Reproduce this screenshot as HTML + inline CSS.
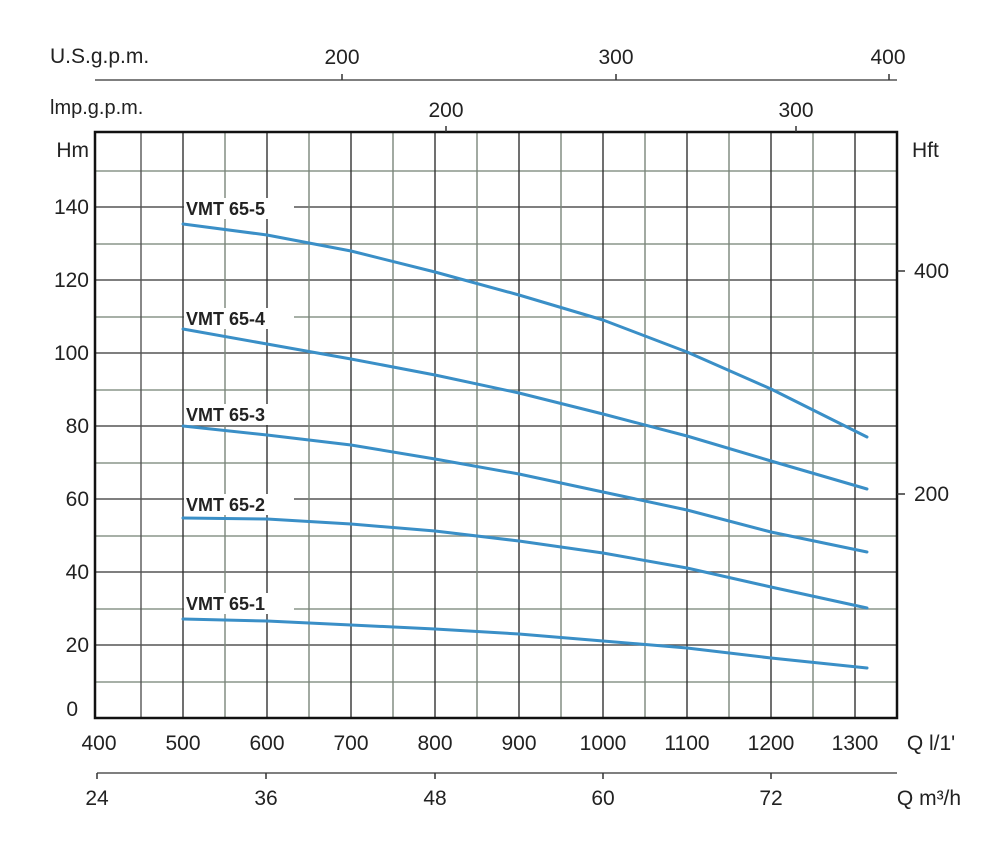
<!DOCTYPE html>
<html><head><meta charset="utf-8"><style>
html,body{margin:0;padding:0;background:#fff;}
svg{display:block;}
text{font-family:"Liberation Sans","DejaVu Sans",sans-serif;fill:#222;}
</style></head><body>
<svg width="1006" height="866" viewBox="0 0 1006 866" xmlns="http://www.w3.org/2000/svg">
<rect width="1006" height="866" fill="#fff"/>
<g stroke-width="1.4">
<line x1="95" x2="897" y1="682" y2="682" stroke="#8a958a"/>
<line x1="95" x2="897" y1="645" y2="645" stroke="#555"/>
<line x1="95" x2="897" y1="609" y2="609" stroke="#8a958a"/>
<line x1="95" x2="897" y1="572" y2="572" stroke="#555"/>
<line x1="95" x2="897" y1="536" y2="536" stroke="#8a958a"/>
<line x1="95" x2="897" y1="499" y2="499" stroke="#555"/>
<line x1="95" x2="897" y1="463" y2="463" stroke="#8a958a"/>
<line x1="95" x2="897" y1="426" y2="426" stroke="#555"/>
<line x1="95" x2="897" y1="390" y2="390" stroke="#8a958a"/>
<line x1="95" x2="897" y1="353" y2="353" stroke="#555"/>
<line x1="95" x2="897" y1="317" y2="317" stroke="#8a958a"/>
<line x1="95" x2="897" y1="280" y2="280" stroke="#555"/>
<line x1="95" x2="897" y1="244" y2="244" stroke="#8a958a"/>
<line x1="95" x2="897" y1="207" y2="207" stroke="#555"/>
<line x1="95" x2="897" y1="171" y2="171" stroke="#8a958a"/>
</g>
<g stroke-width="1.4">
<line y1="132" y2="718" x1="141" x2="141" stroke="#555"/>
<line y1="132" y2="718" x1="183" x2="183" stroke="#333"/>
<line y1="132" y2="718" x1="225" x2="225" stroke="#7a857a"/>
<line y1="132" y2="718" x1="267" x2="267" stroke="#333"/>
<line y1="132" y2="718" x1="309" x2="309" stroke="#7a857a"/>
<line y1="132" y2="718" x1="351" x2="351" stroke="#333"/>
<line y1="132" y2="718" x1="393" x2="393" stroke="#7a857a"/>
<line y1="132" y2="718" x1="435" x2="435" stroke="#333"/>
<line y1="132" y2="718" x1="477" x2="477" stroke="#7a857a"/>
<line y1="132" y2="718" x1="519" x2="519" stroke="#333"/>
<line y1="132" y2="718" x1="561" x2="561" stroke="#7a857a"/>
<line y1="132" y2="718" x1="603" x2="603" stroke="#333"/>
<line y1="132" y2="718" x1="645" x2="645" stroke="#7a857a"/>
<line y1="132" y2="718" x1="687" x2="687" stroke="#333"/>
<line y1="132" y2="718" x1="729" x2="729" stroke="#7a857a"/>
<line y1="132" y2="718" x1="771" x2="771" stroke="#333"/>
<line y1="132" y2="718" x1="813" x2="813" stroke="#7a857a"/>
<line y1="132" y2="718" x1="855" x2="855" stroke="#333"/>
</g>
<rect x="95" y="132" width="802" height="586" fill="none" stroke="#111" stroke-width="2.5"/>
<g font-weight="bold" font-size="18">
<rect x="184" y="198" width="110" height="21" fill="#fff"/><text x="186" y="215">VMT 65-5</text>
<rect x="184" y="308" width="110" height="21" fill="#fff"/><text x="186" y="325">VMT 65-4</text>
<rect x="184" y="404" width="110" height="21" fill="#fff"/><text x="186" y="421">VMT 65-3</text>
<rect x="184" y="494" width="110" height="21" fill="#fff"/><text x="186" y="511">VMT 65-2</text>
<rect x="184" y="593" width="110" height="21" fill="#fff"/><text x="186" y="610">VMT 65-1</text>
</g>
<g fill="none" stroke="#3a8fc7" stroke-width="3" stroke-linejoin="round" stroke-linecap="round">
<polyline points="183,224 267,235 351,251 435,272 519,295 603,320 687,352 771,389 867,437"/>
<polyline points="183,329 267,344 351,359 435,375 519,393 603,414 687,436 771,461 867,489"/>
<polyline points="183,426 267,435 351,445 435,459 519,474 603,492 687,510 771,532 867,552"/>
<polyline points="183,518 267,519 351,524 435,531 519,541 603,553 687,568 771,587 867,608"/>
<polyline points="183,619 267,621 351,625 435,629 519,634 603,641 687,648 771,658 867,668"/>
</g>
<g font-size="21" text-anchor="end">
<text x="89" y="157">Hm</text>
<text x="89" y="214">140</text>
<text x="89" y="287">120</text>
<text x="89" y="360">100</text>
<text x="89" y="433">80</text>
<text x="89" y="506">60</text>
<text x="89" y="579">40</text>
<text x="89" y="652">20</text>
<text x="78" y="716">0</text>
</g>
<g stroke="#333" stroke-width="1.5"><line x1="897" x2="905" y1="271" y2="271"/><line x1="897" x2="905" y1="494" y2="494"/></g>
<g font-size="21">
<text x="912" y="157">Hft</text>
<text x="914" y="278">400</text>
<text x="914" y="501">200</text>
</g>
<line x1="95" x2="897" y1="80" y2="80" stroke="#555" stroke-width="1.5"/>
<g stroke="#333" stroke-width="1.5"><line x1="342" x2="342" y1="74" y2="80"/><line x1="616" x2="616" y1="74" y2="80"/><line x1="889" x2="889" y1="74" y2="80"/>
<line x1="446" x2="446" y1="126" y2="132"/><line x1="796" x2="796" y1="126" y2="132"/></g>
<g font-size="21">
<text x="50" y="63">U.S.g.p.m.</text>
<text x="342" y="64" text-anchor="middle">200</text>
<text x="616" y="64" text-anchor="middle">300</text>
<text x="888" y="64" text-anchor="middle">400</text>
<text x="50" y="114" font-size="20">lmp.g.p.m.</text>
<text x="446" y="117" text-anchor="middle">200</text>
<text x="796" y="117" text-anchor="middle">300</text>
</g>
<g font-size="21" text-anchor="middle">
<text x="99" y="750">400</text><text x="183" y="750">500</text><text x="267" y="750">600</text><text x="351" y="750">700</text>
<text x="435" y="750">800</text><text x="519" y="750">900</text><text x="603" y="750">1000</text><text x="687" y="750">1100</text>
<text x="771" y="750">1200</text><text x="855" y="750">1300</text>
<text x="931" y="750">Q l/1'</text>
</g>
<line x1="97" x2="897" y1="773" y2="773" stroke="#555" stroke-width="1.5"/>
<g stroke="#333" stroke-width="1.5"><line x1="97" x2="97" y1="773" y2="779"/><line x1="266" x2="266" y1="773" y2="779"/><line x1="435" x2="435" y1="773" y2="779"/><line x1="603" x2="603" y1="773" y2="779"/><line x1="771" x2="771" y1="773" y2="779"/></g>
<g font-size="21" text-anchor="middle">
<text x="97" y="805">24</text><text x="266" y="805">36</text><text x="435" y="805">48</text><text x="603" y="805">60</text><text x="771" y="805">72</text>
<text x="929" y="805">Q m³/h</text>
</g>
</svg>
</body></html>
